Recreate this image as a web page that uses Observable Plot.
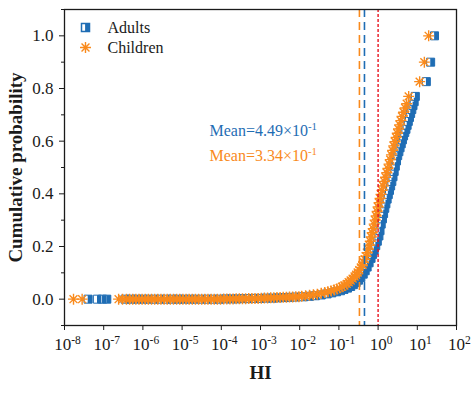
<!DOCTYPE html>
<html><head><meta charset="utf-8">
<script src="https://cdn.jsdelivr.net/npm/d3@7"></script>
<script src="https://cdn.jsdelivr.net/npm/@observablehq/plot@0.6"></script>
<style>body{margin:0;background:#fff}#chart{width:474px;height:398px}</style>
</head><body><div id="chart"></div>
<script>
const seriesNames = ["Adults", "Children"];
// Adults: HI values and cumulative probabilities
const adultsHI = [4.0e-8, 6.9e-8, 9.3e-8, 1.2e-7,
  3.5e-7, 5.0e-7, 7.1e-7, 1.0e-6, 1.4e-6, 2.0e-6, 2.8e-6, 4.0e-6, 5.6e-6, 7.9e-6,
  1.1e-5, 1.6e-5, 2.2e-5, 3.2e-5, 4.5e-5, 6.3e-5, 8.9e-5, 1.3e-4, 1.8e-4, 2.5e-4,
  3.5e-4, 5.0e-4, 7.1e-4, 1.0e-3, 1.4e-3, 2.0e-3, 2.8e-3, 4.0e-3, 5.6e-3, 7.9e-3,
  0.0126, 0.0178, 0.0251, 0.0355, 0.0501, 0.0661, 0.0871, 0.110, 0.135, 0.166,
  0.200, 0.234, 0.275, 0.316, 0.363, 0.417, 0.468, 0.525, 0.589, 0.661,
  0.724, 0.794, 0.871, 0.955, 1.05, 1.12, 1.20, 1.29, 1.38, 1.48,
  1.58, 1.70, 1.82, 1.95, 2.09, 2.24, 2.40, 2.57, 2.75, 2.95,
  3.16, 3.39, 3.63, 3.89, 4.17, 4.47, 4.79, 5.13, 5.50, 5.89,
  6.31, 6.76, 7.24, 7.76, 8.32, 8.91, 17.0, 21.9, 27.5];
const adultsP = [0, 0, 0, 0,
  0, 0, 0, 0, 0, 0, 0, 0, 0, 0,
  0, 0, 0, 0, 0, 0, 0, 0.001, 0.001, 0.001,
  0.002, 0.002, 0.003, 0.003, 0.004, 0.004, 0.005, 0.006, 0.007, 0.008,
  0.009, 0.011, 0.013, 0.016, 0.020, 0.024, 0.028, 0.032, 0.037, 0.042,
  0.048, 0.055, 0.063, 0.072, 0.082, 0.095, 0.108, 0.122, 0.138, 0.155,
  0.170, 0.186, 0.203, 0.220, 0.240, 0.260, 0.285, 0.305, 0.325, 0.345,
  0.362, 0.380, 0.397, 0.413, 0.430, 0.447, 0.465, 0.485, 0.505, 0.525,
  0.545, 0.560, 0.575, 0.590, 0.605, 0.620, 0.633, 0.645, 0.660, 0.675,
  0.690, 0.705, 0.720, 0.735, 0.750, 0.770, 0.826, 0.900, 1.000];
// Children: log10(HI) values and cumulative probabilities
const childrenLog10HI = [-7.77, -7.55, -6.62, -6.52,
  -6.42, -6.34, -6.26, -6.18, -6.10, -6.02, -5.94, -5.86, -5.78, -5.70,
  -5.62, -5.54, -5.46, -5.38, -5.30, -5.22, -5.14, -5.06, -4.98, -4.90,
  -4.82, -4.74, -4.66, -4.58, -4.50, -4.42, -4.34, -4.26, -4.18, -4.10, -4.02,
  -3.94, -3.86, -3.78, -3.70, -3.62, -3.54, -3.46, -3.38, -3.30, -3.22,
  -3.14, -3.06, -2.98, -2.90, -2.82, -2.74, -2.66, -2.58, -2.50, -2.42,
  -2.34, -2.26, -2.18, -2.10, -2.02,
  -1.95, -1.85, -1.75, -1.65, -1.55, -1.45, -1.36, -1.28, -1.20, -1.12,
  -1.05, -0.98, -0.92, -0.86, -0.80, -0.75, -0.70, -0.65, -0.60, -0.56,
  -0.52, -0.48, -0.44, -0.40, -0.37, -0.34, -0.31, -0.28,
  -0.25, -0.225, -0.20, -0.175, -0.15, -0.125, -0.10, -0.075, -0.05, -0.025,
  0.00, 0.025, 0.05, 0.075, 0.10, 0.13, 0.16, 0.19, 0.22, 0.25,
  0.28, 0.31, 0.34, 0.37, 0.40, 0.43, 0.46, 0.49, 0.52, 0.55,
  0.58, 0.61, 0.65, 0.69, 0.73, 0.78, 1.06, 1.18, 1.29];
const childrenP = [0, 0, 0, 0,
  0, 0, 0, 0, 0, 0, 0, 0, 0, 0,
  0, 0, 0, 0, 0, 0, 0, 0, 0, 0,
  0, 0, 0, 0, 0, 0, 0, 0, 0, 0, 0,
  0.001, 0.001, 0.001, 0.001, 0.0015, 0.0015, 0.002, 0.002, 0.0025, 0.0025,
  0.003, 0.003, 0.0035, 0.004, 0.0045, 0.005, 0.0055, 0.006, 0.0065, 0.007,
  0.0075, 0.008, 0.0085, 0.009, 0.0095,
  0.011, 0.013, 0.015, 0.017, 0.019, 0.022, 0.025, 0.028, 0.031, 0.035,
  0.039, 0.043, 0.047, 0.052, 0.058, 0.064, 0.071, 0.078, 0.086, 0.093,
  0.101, 0.110, 0.120, 0.130, 0.140, 0.151, 0.163, 0.176,
  0.190, 0.205, 0.220, 0.236, 0.252, 0.268, 0.285, 0.300, 0.316, 0.333,
  0.350, 0.366, 0.382, 0.398, 0.413, 0.430, 0.447, 0.463, 0.480, 0.496,
  0.513, 0.530, 0.548, 0.565, 0.582, 0.598, 0.614, 0.630, 0.646, 0.662,
  0.678, 0.694, 0.710, 0.726, 0.742, 0.770, 0.826, 0.900, 1.000];
const meanValues = [0.449, 0.334];
const meanLabels = ["Mean=4.49×10^-1", "Mean=3.34×10^-1"];
const thresholdHI = [1];
const xTicks = [1e-8, 1e-7, 1e-6, 1e-5, 1e-4, 1e-3, 1e-2, 1e-1, 1e0, 1e1, 1e2];
const yTicks = [0, 0.2, 0.4, 0.6, 0.8, 1.0];
const yMinorTicks = [-0.1, 0.1, 0.3, 0.5, 0.7, 0.9, 1.1];
const xTitle = "HI";
const yTitle = "Cumulative probability";

const blue = "#1f6db4", orange = "#f98a1c", red = "#e8141e";
const adults = adultsHI.map((h, i) => ({HI: h, p: adultsP[i]}));
const children = childrenLog10HI.map((l, i) => ({HI: 10 ** l, p: childrenP[i]}));

const squareSym = {draw(ctx, size) { const s = Math.sqrt(size / Math.PI); ctx.rect(-s, -s, 2 * s, 2 * s); }};
const halfSym = {draw(ctx, size) { const s = Math.sqrt(size / Math.PI); ctx.moveTo(-0.1 * s, -s); ctx.lineTo(s, -s); ctx.lineTo(s, s); ctx.lineTo(-0.1 * s, s); ctx.closePath(); }};
const starSym = {draw(ctx, size) { const s = Math.sqrt(size / Math.PI); const d = s * 0.72;
  ctx.moveTo(-s, 0); ctx.lineTo(s, 0);
  ctx.moveTo(0, -s); ctx.lineTo(0, s);
  ctx.moveTo(-d, -d); ctx.lineTo(d, d);
  ctx.moveTo(-d, d); ctx.lineTo(d, -d); }};

const plot = Plot.plot({
  width: 474, height: 398,
  marginLeft: 64, marginRight: 18, marginTop: 9, marginBottom: 73,
  style: {fontFamily: "'Liberation Serif', 'Times New Roman', serif", fontSize: "16px", background: "white", color: "#1a1a1a"},
  x: {type: "log", domain: [1e-8, 1e2]},
  y: {domain: [-0.1, 1.1]},
  marks: [
    Plot.dot(adults, {x: "HI", y: "p", symbol: squareSym, r: 4, fill: "white", stroke: blue, strokeWidth: 1}),
    Plot.dot(adults, {x: "HI", y: "p", symbol: halfSym, r: 4, fill: blue}),
    Plot.dot(children, {x: "HI", y: "p", symbol: starSym, r: 5.5, fill: "none", stroke: orange, strokeWidth: 1.4}),
    Plot.ruleX([meanValues[1]], {stroke: orange, strokeWidth: 1.6, strokeDasharray: "8,5"}),
    Plot.ruleX([meanValues[0]], {stroke: blue, strokeWidth: 1.6, strokeDasharray: "8,5"}),
    Plot.ruleX(thresholdHI, {stroke: red, strokeWidth: 1.4, strokeDasharray: "3,2"}),
    Plot.axisX({ticks: xTicks, tickFormat: d => "10^" + Math.round(Math.log10(d)), tickSize: 5, tickPadding: 7, fontSize: 17, label: null}),
    Plot.axisY({ticks: yTicks, tickFormat: d => d.toFixed(1), tickSize: 5, tickPadding: 6, fontSize: 17, label: null}),
    Plot.axisY({ticks: yMinorTicks, tickSize: 3, tickFormat: () => "", label: null}),
    Plot.frame({stroke: "#1a1a1a", strokeWidth: 1.3}),
    Plot.text([yTitle], {x: null, y: null, frameAnchor: "left", textAnchor: "middle", lineAnchor: "middle", rotate: -90, dx: -49, fontSize: 19, fontWeight: "bold"}),
    Plot.text([xTitle], {x: null, y: null, frameAnchor: "bottom", lineAnchor: "middle", dy: 47, fontSize: 19, fontWeight: "bold"}),
    Plot.dot([seriesNames[0]], {x: null, y: null, frameAnchor: "top-left", dx: 21, dy: 18, symbol: squareSym, r: 4, fill: "white", stroke: blue}),
    Plot.dot([seriesNames[0]], {x: null, y: null, frameAnchor: "top-left", dx: 21, dy: 18, symbol: halfSym, r: 4, fill: blue}),
    Plot.dot([seriesNames[1]], {x: null, y: null, frameAnchor: "top-left", dx: 21, dy: 38, symbol: starSym, r: 5.5, fill: "none", stroke: orange, strokeWidth: 1.4}),
    Plot.text([seriesNames[0]], {x: null, y: null, frameAnchor: "top-left", dx: 43, dy: 18, textAnchor: "start", lineAnchor: "middle", fontSize: 16}),
    Plot.text([seriesNames[1]], {x: null, y: null, frameAnchor: "top-left", dx: 43, dy: 38, textAnchor: "start", lineAnchor: "middle", fontSize: 16}),
    Plot.text([meanLabels[0]], {x: null, y: null, frameAnchor: "top-left", dx: 145, dy: 121, textAnchor: "start", lineAnchor: "middle", fill: blue, fontSize: 16}),
    Plot.text([meanLabels[1]], {x: null, y: null, frameAnchor: "top-left", dx: 145, dy: 146, textAnchor: "start", lineAnchor: "middle", fill: orange, fontSize: 16})
  ]
});

d3.select(plot).selectAll("text").each(function() {
  const t = this.textContent;
  const m = t.match(/^(.*)\^(-?\d+)$/);
  if (!m) return;
  const el = d3.select(this);
  el.text(m[1]);
  el.append("tspan").attr("dy", "-0.5em").attr("font-size", "0.68em").text(m[2]);
});
d3.select(plot).selectAll("g[aria-label='x-axis tick label'] text").attr("dx", 3);
document.getElementById("chart").appendChild(plot);
</script></body></html>
